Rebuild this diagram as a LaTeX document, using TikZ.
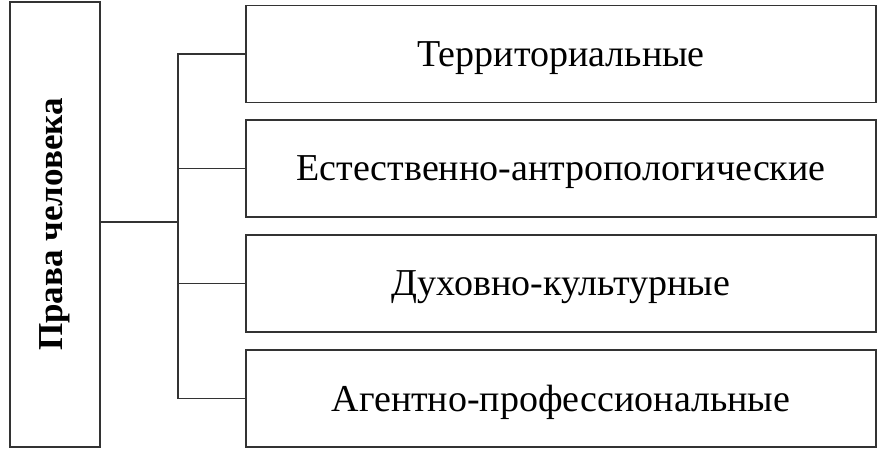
\documentclass[tikz,border=0pt]{standalone}
\usepackage{fontspec}
\setmainfont{Liberation Serif}
\begin{document}
\begin{tikzpicture}[x=1pt,y=-1pt,
  box/.style={draw=black!80,line width=1.8pt,minimum width=630pt,minimum height=97pt,inner sep=0pt,font=\fontsize{38}{42}\selectfont},
  conn/.style={draw=black!80,line width=1.6pt}]
\useasboundingbox (0,0) rectangle (882,450);
\node[draw=black!80,line width=1.8pt,minimum width=90pt,minimum height=445pt,inner sep=0pt] (L) at (55,224.5) {};
\node[rotate=90,font=\fontsize{35}{40}\selectfont\bfseries] (Lt) at (L.center) {Права человека};
\node[box,text depth=-4pt] (b1) at (561,54) {Территориальные};
\node[box,text depth=-4pt] (b2) at (561,168.5) {Естественно-антропологические};
\node[box,text depth=-4pt] (b3) at (561,283.5) {Духовно-культурные};
\node[box,text depth=-4pt] (b4) at (561,398.5) {Агентно-профессиональные};
\coordinate (j) at (178,222);
\draw[conn] (L.east |- j) -- (j);
\draw[conn] (b1.west) -| (j);
\draw[conn] (b4.west) -| (j);
\draw[conn] (b2.west) -- (b2.west -| j);
\draw[conn] (b3.west) -- (b3.west -| j);
\end{tikzpicture}
\end{document}
